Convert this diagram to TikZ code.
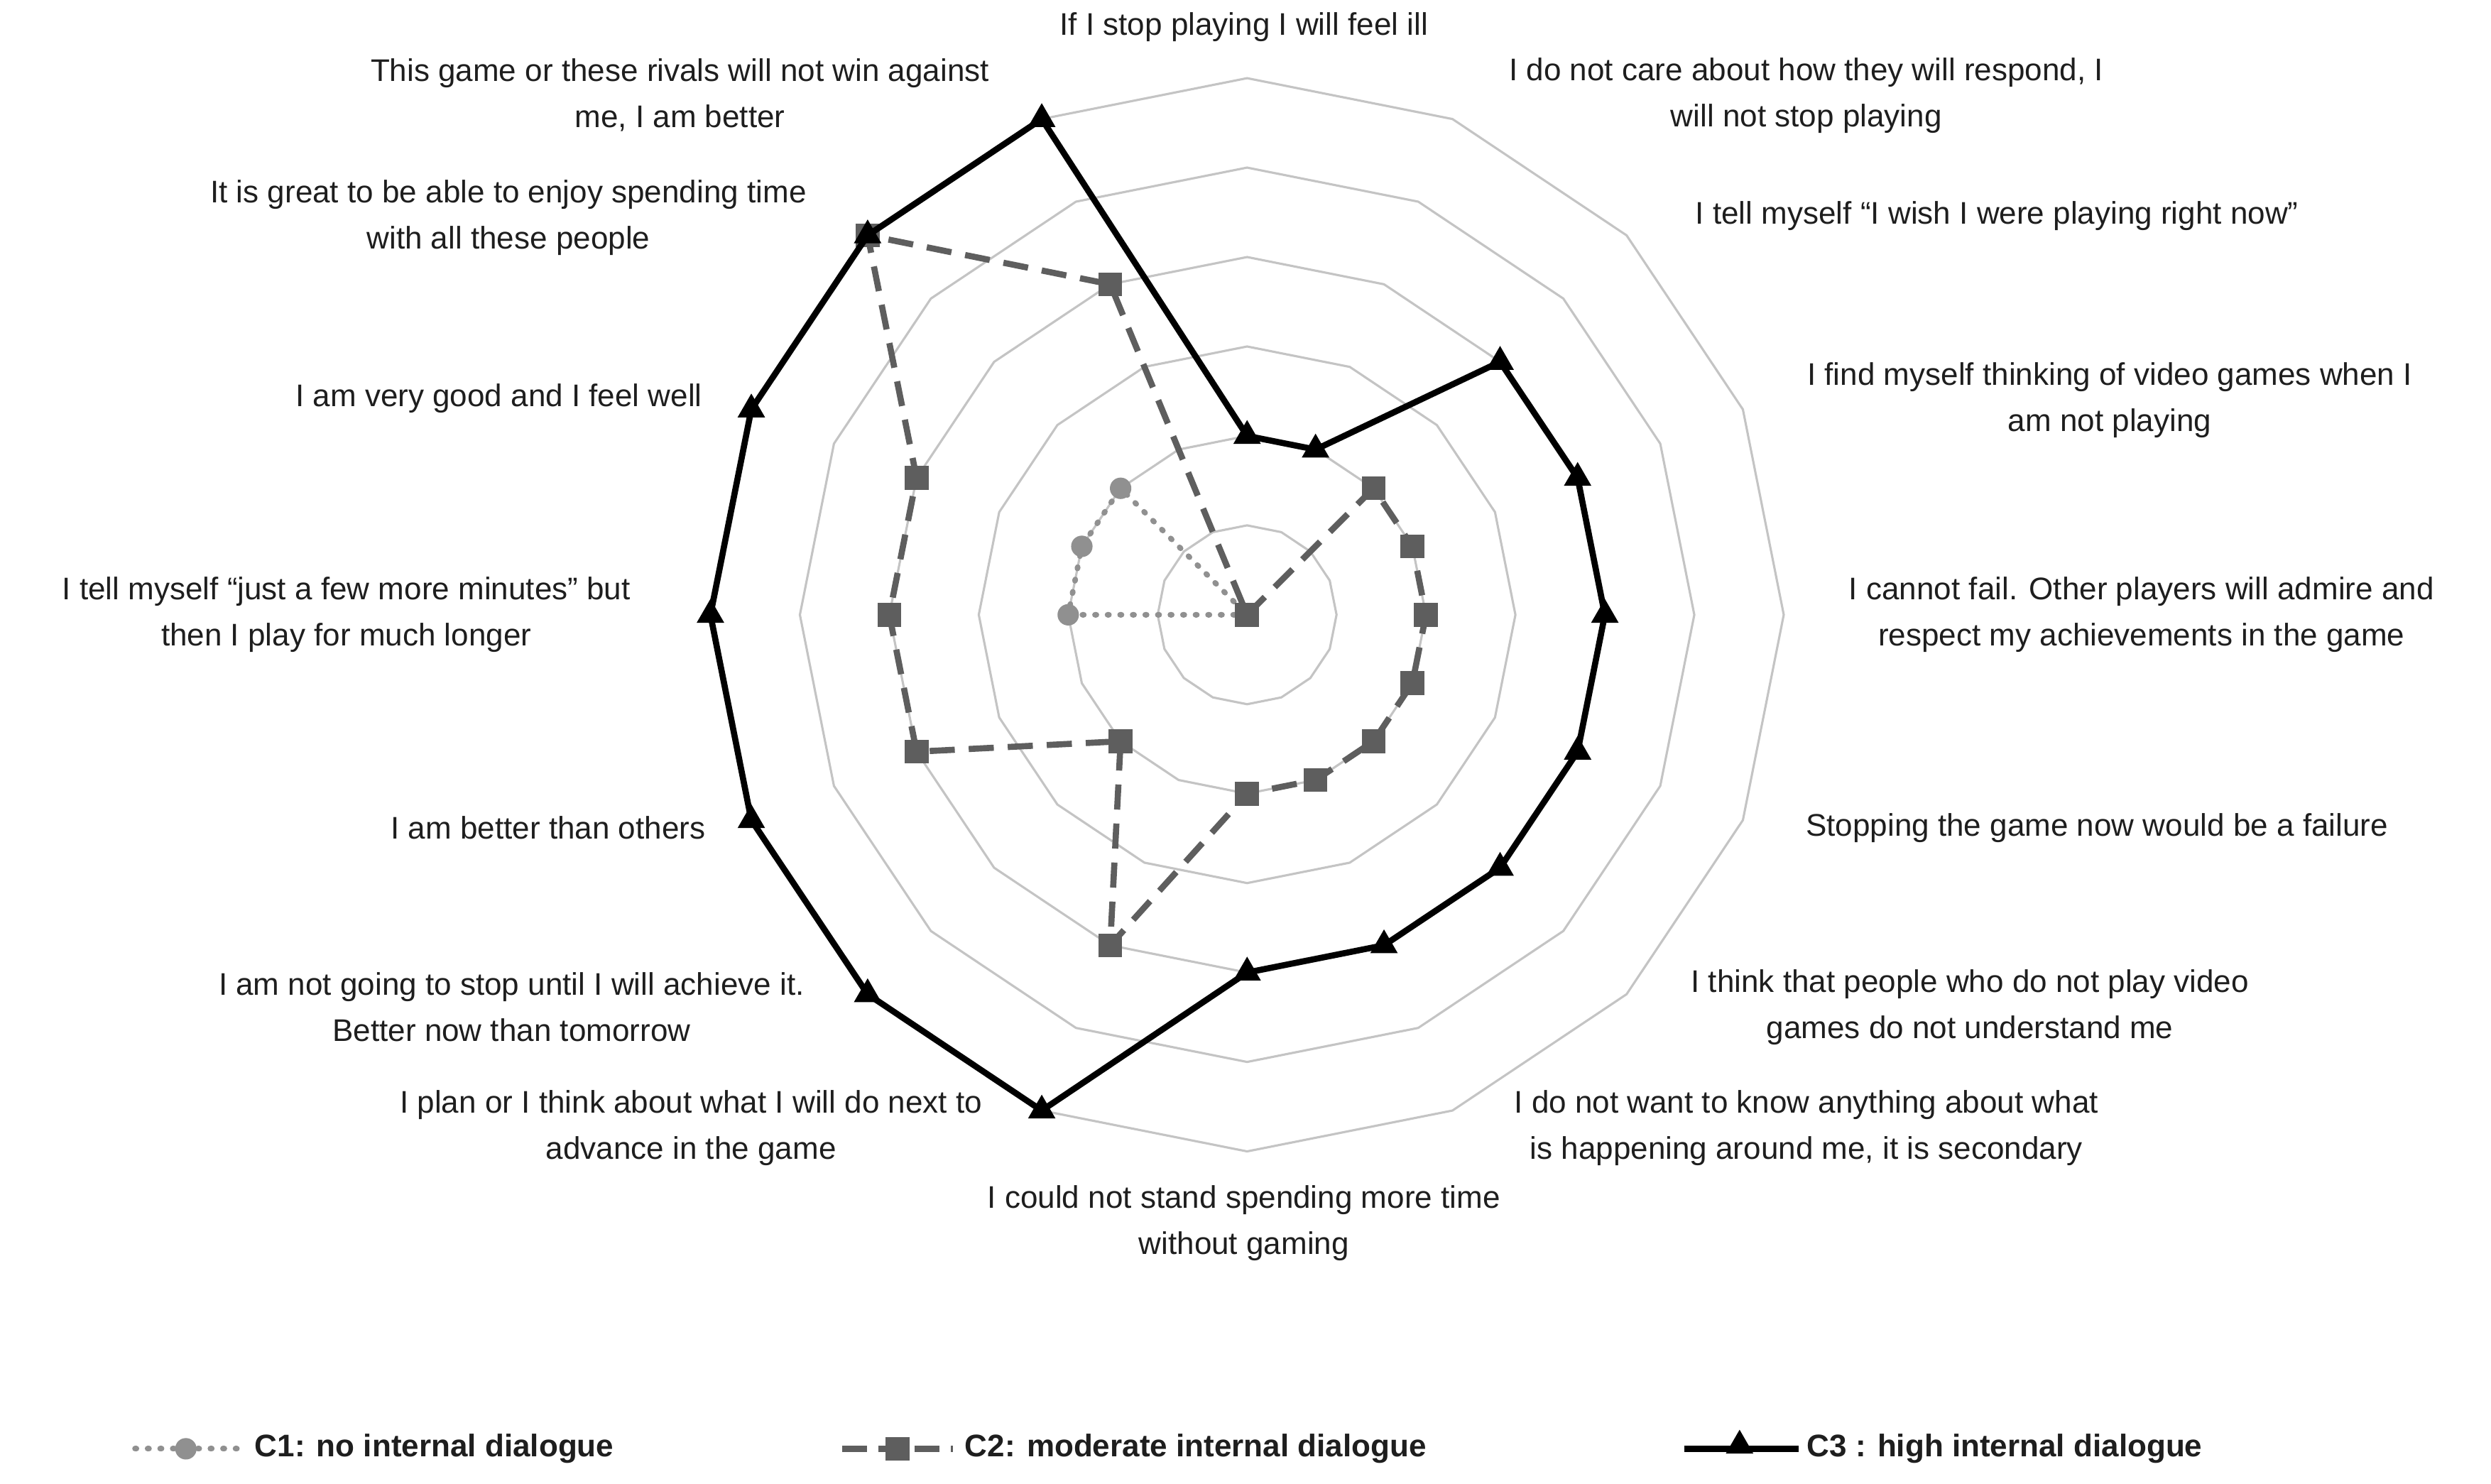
\documentclass[tikz,border=0pt]{standalone}
\usepackage{fontspec}
\setmainfont{Liberation Sans}
\usetikzlibrary{shapes.geometric}
\definecolor{ringc}{HTML}{C4C4C4}
\definecolor{cone}{HTML}{909090}
\definecolor{ctwo}{HTML}{5E5E5E}
\definecolor{txt}{HTML}{1E1E1E}
\begin{document}
\begin{tikzpicture}[x=0.02cm,y=-0.02cm,
  lab/.style={align=center,font=\fontsize{11.2}{16.5}\selectfont,text=txt,inner sep=0pt},
  leg/.style={anchor=west,font=\fontsize{11.2}{13}\selectfont\bfseries,text=txt,inner sep=0pt},
  ring/.style={draw=ringc,line width=0.8pt},
  sone/.style={draw=cone,line width=2pt,dash pattern=on 0.5pt off 4pt,line cap=round},
  stwo/.style={draw=ctwo,line width=2.2pt,dash pattern=on 9pt off 5pt},
  sthree/.style={draw=black,line width=2.2pt,line join=miter},
  mone/.style={circle,fill=cone,inner sep=0pt,minimum size=0.27cm},
  mtwo/.style={rectangle,fill=ctwo,inner sep=0pt,minimum size=0.3cm},
  mthree/.style={regular polygon,regular polygon sides=3,fill=black,inner sep=0pt,minimum size=0.4cm}]
\useasboundingbox (0,0) rectangle (1568,934);
\coordinate (O) at (785,387);
% rings
\foreach \r in {1,...,6}{
  \draw[ring] ([shift={(-90:{\r*56.3})}]O)
    \foreach \k in {1,...,15}{ -- ([shift={({-90+22.5*\k}:{\r*56.3})}]O)} -- cycle;
}
% labels
\node[lab] (l0) at (783,17) {If I stop playing I will feel ill};
\node[lab] (l1) at (1137,60) {I do not care about how they will respond, I\\will not stop playing};
\node[lab] (l2) at (1257,136) {I tell myself “I wish I were playing right now”};
\node[lab] (l3) at (1328,252) {I find myself thinking of video games when I\\am not playing};
\node[lab] (l4) at (1348,387) {I cannot fail. Other players will admire and\\respect my achievements in the game};
\node[lab] (l5) at (1320,521) {Stopping the game now would be a failure};
\node[lab] (l6) at (1240,634) {I think that people who do not play video\\games do not understand me};
\node[lab] (l7) at (1137,710) {I do not want to know anything about what\\is happening around me, it is secondary};
\node[lab] (l8) at (783,770) {I could not stand spending more time\\without gaming};
\node[lab] (l9) at (435,710) {I plan or I think about what I will do next to\\advance in the game};
\node[lab] (l10) at (322,634) {I am not going to stop until I will achieve it.\\Better now than tomorrow};
\node[lab] (l11) at (345,521) {I am better than others};
\node[lab] (l12) at (218,387) {I tell myself “just a few more minutes” but\\then I play for much longer};
\node[lab] (l13) at (314,251) {I am very good and I feel well};
\node[lab] (l14) at (320,137) {It is great to be able to enjoy spending time\\with all these people};
\node[lab] (l15) at (428,60) {This game or these rivals will not win against\\me, I am better};
% series C1
\foreach \v [count=\i from 0] in {0,0,0,0,0,0,0,0,0,0,0,0,2,2,2,0}{
  \coordinate (a\i) at ([shift={({-90+22.5*\i}:{\v*56.3})}]O);}
\draw[sone] (a0) \foreach \i in {1,...,15}{ -- (a\i)} -- cycle;
\foreach \i in {0,12,13,14} \node[mone] (ma\i) at (a\i) {};
% series C2
\foreach \v [count=\i from 0] in {0,0,2,2,2,2,2,2,2,4,2,4,4,4,6,4}{
  \coordinate (b\i) at ([shift={({-90+22.5*\i}:{\v*56.3})}]O);}
\draw[stwo] (b0) \foreach \i in {1,...,15}{ -- (b\i)} -- cycle;
\foreach \i in {0,2,3,...,15} \node[mtwo] (mb\i) at (b\i) {};
% series C3
\foreach \v [count=\i from 0] in {2,2,4,4,4,4,4,4,4,6,6,6,6,6,6,6}{
  \coordinate (c\i) at ([shift={({-90+22.5*\i}:{\v*56.3})}]O);}
\draw[sthree] (c0) \foreach \i in {1,...,15}{ -- (c\i)} -- cycle;
\foreach \i in {0,...,15} \node[mthree] (mc\i) at (c\i) {};
% legend
\coordinate (p1a) at (85,912); \coordinate (p1b) at (150,912);
\draw[sone] (p1a) -- (p1b);
\node[mone] (lm1) at (117,912) {};
\node[leg] (t1) at (160,912) {C1: no internal dialogue};
\coordinate (p2a) at (530,912); \coordinate (p2b) at (600,912);
\draw[stwo,dash pattern=on 9pt off 4pt] (p2a) -- (p2b);
\node[mtwo] (lm2) at (565,912) {};
\node[leg] (t2) at (607,912) {C2: moderate internal dialogue};
\coordinate (p3a) at (1060,912); \coordinate (p3b) at (1132,912);
\draw[sthree] (p3a) -- (p3b);
\node[mthree] (lm3) at (1095,910) {};
\node[leg] (t3) at (1137,912) {C3 : high internal dialogue};
\end{tikzpicture}
\end{document}
